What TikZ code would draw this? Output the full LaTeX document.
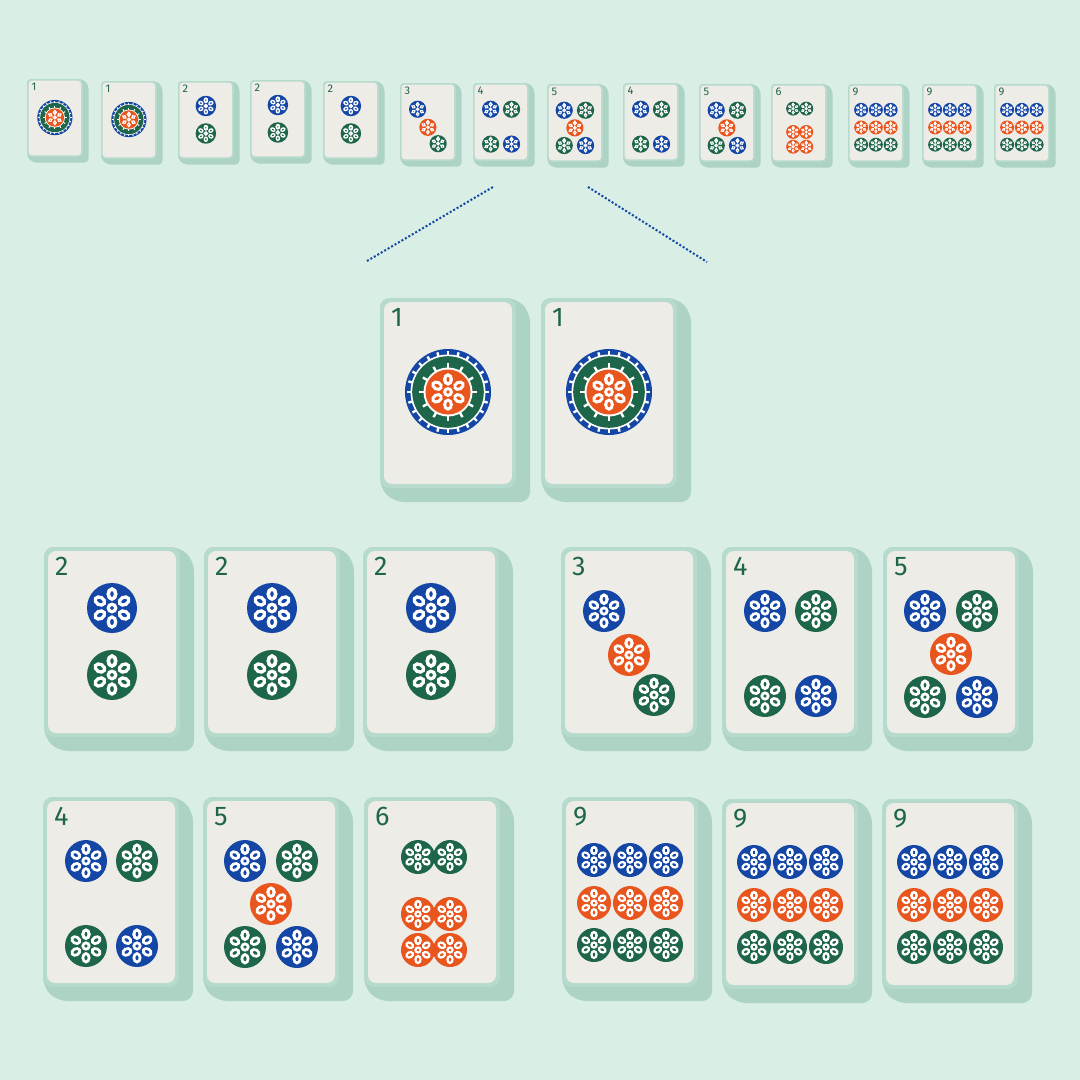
\documentclass[tikz,border=0pt]{standalone}
\usepackage{fontspec}
\setmainfont{Fira Sans}
\definecolor{bg}{HTML}{D9EEE5}
\definecolor{rim}{HTML}{B6DACB}
\definecolor{shd}{HTML}{ADD3C4}
\definecolor{face}{HTML}{EEECE7}
\definecolor{pb}{HTML}{1446A6}
\definecolor{pg}{HTML}{1E6649}
\definecolor{po}{HTML}{E8561E}
\tikzset{dotline/.style={pb,line width=2pt,dotted}}
\newcommand\pip[4]{%
 \pgfmathsetmacro\lw{#3*\ts*0.13}%
 \fill[#4] (#1,#2) circle (#3);
 \draw[white,line width=\lw pt] (#1,#2) circle ({0.15*#3});
 \foreach \aa in {90,150,...,450}{\draw[white,line width=\lw pt,shift={(#1,#2)},rotate=\aa] ({0.56*#3},0) ellipse ({0.2*#3} and {0.15*#3});}
}
\newcommand\bigdisc[2]{%
 \pgfmathsetmacro\tw{2.4*\ts}%
 \fill[pb] (#1,#2) circle (43);
 \fill[white] (#1,#2) circle (37.5);
 \fill[pg] (#1,#2) circle (35.8);
 \foreach \aa in {0,15,...,345}{\draw[white,line width=\tw pt,shift={(#1,#2)}] (\aa:37) -- (\aa:41);}
 \foreach \aa in {0,30,...,330}{\draw[white,line width=\tw pt,shift={(#1,#2)}] (\aa:24) -- (\aa:29);}
 \fill[white] (#1,#2) circle (24.5);
 \pip{#1}{#2}{22.5}{po}
}
\newcommand\tile[5]{%
 \begin{scope}[shift={(#1,#2)},scale=#3]
 \def\ts{#3}%
 \fill[shd,rounded corners=10*#3] (0,0) -- (136,0) -- (150,14) -- (150,204) -- (14,204) -- (0,190) -- cycle;
 \fill[rim,rounded corners=10*#3] (0,0) rectangle (136,190);
 \fill[face,rounded corners=8*#3] (4,4) rectangle (132,186);
 \pgfmathsetmacro\fs{27*#3}%
 \node[anchor=north west,inner sep=0pt,text=pg,font=\fontsize{\fs pt}{\fs pt}\selectfont] at (11,10) {#4};
 #5
 \end{scope}}
\newcommand\Pone{\bigdisc{68}{94}}
\newcommand\Ptwo{\pip{68}{61}{25}{pb}\pip{68}{128}{25}{pg}}
\newcommand\Pthree{\pip{43}{64}{21}{pb}\pip{68}{108}{21}{po}\pip{93}{148}{21}{pg}}
\newcommand\Pfour{\pip{43}{64}{21}{pb}\pip{94}{64}{21}{pg}\pip{43}{149}{21}{pg}\pip{94}{149}{21}{pb}}
\newcommand\Pfive{\pip{42}{64}{21}{pb}\pip{94}{64}{21}{pg}\pip{68}{107}{21}{po}\pip{42}{150}{21}{pg}\pip{94}{150}{21}{pb}}
\newcommand\Psix{\pip{54}{60}{17}{pg}\pip{86}{60}{17}{pg}\pip{54}{117}{17}{po}\pip{86}{117}{17}{po}\pip{54}{153}{17}{po}\pip{86}{153}{17}{po}}
\newcommand\Pnine{\foreach \xx in {32,68,104}{\pip{\xx}{63}{17}{pb}\pip{\xx}{106}{17}{po}\pip{\xx}{148}{17}{pg}}}
\begin{document}
\begin{tikzpicture}[x=1pt,y=-1pt]
\fill[bg] (0,0) rectangle (1080,1080);
\useasboundingbox (0,0) rectangle (1080,1080);
% top row
\tile{27}{79}{0.41}{1}{\Pone}
\tile{101}{81}{0.41}{1}{\Pone}
\tile{178}{81}{0.41}{2}{\Ptwo}
\tile{250}{80}{0.41}{2}{\Ptwo}
\tile{323}{81}{0.41}{2}{\Ptwo}
\tile{400}{83}{0.41}{3}{\Pthree}
\tile{473}{83}{0.41}{4}{\Pfour}
\tile{547}{84}{0.41}{5}{\Pfive}
\tile{623}{83}{0.41}{4}{\Pfour}
\tile{699}{84}{0.41}{5}{\Pfive}
\tile{771}{84}{0.41}{6}{\Psix}
\tile{848}{84}{0.41}{9}{\Pnine}
\tile{922}{84}{0.41}{9}{\Pnine}
\tile{994}{84}{0.41}{9}{\Pnine}
% dotted lines
\coordinate (l1) at (367,261); \coordinate (l2) at (493,187);
\coordinate (r1) at (588,187); \coordinate (r2) at (707,262);
\draw[dotline] (l1) -- (l2);
\draw[dotline] (r1) -- (r2);
% big tiles
\tile{380}{298}{1}{1}{\Pone}
\tile{541}{298}{1}{1}{\Pone}
\tile{44}{547}{1}{2}{\Ptwo}
\tile{204}{547}{1}{2}{\Ptwo}
\tile{363}{547}{1}{2}{\Ptwo}
\tile{561}{547}{1}{3}{\Pthree}
\tile{722}{547}{1}{4}{\Pfour}
\tile{883}{547}{1}{5}{\Pfive}
\tile{43}{797}{1}{4}{\Pfour}
\tile{203}{797}{1}{5}{\Pfive}
\tile{364}{797}{1}{6}{\Psix}
\tile{562}{797}{1}{9}{\Pnine}
\tile{722}{799}{1}{9}{\Pnine}
\tile{882}{799}{1}{9}{\Pnine}
\end{tikzpicture}
\end{document}
